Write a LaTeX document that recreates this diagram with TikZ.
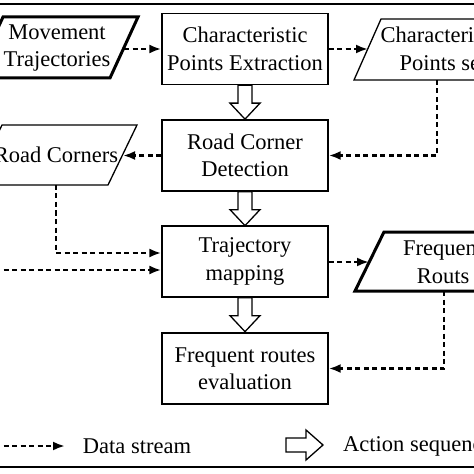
\documentclass[tikz,border=0pt]{standalone}
\usepackage{fontspec}
\setmainfont{Liberation Serif}
\usetikzlibrary{arrows.meta,calc}
\begin{document}
\begin{tikzpicture}[x=1bp,y=-1bp,
  font=\fontsize{22.5bp}{27.5bp}\selectfont,
  proc/.style={draw,line width=1.3bp,minimum width=166bp,minimum height=71bp,align=center,inner sep=0pt},
  txt/.style={align=center,inner sep=0pt},
  thinpar/.style={line width=1.3bp,line join=miter},
  thickpar/.style={line width=3bp,line join=miter},
  data/.style={line width=2.4bp,dash pattern=on 5bp off 3.5bp,-{Latex[length=12bp,width=9bp]}},
  frame/.style={line width=2bp},
  downarr/.pic={\draw[line width=1.3bp,fill=white] (-7,0) -- (7,0) -- (7,18) -- (15,18) -- (0,34) -- (-15,18) -- (-7,18) -- cycle;}
]
\useasboundingbox (0,0) rectangle (474,474);
% frame
\draw[frame] (-5,4) -- (480,4);
\draw[frame] (-5,467) -- (480,467);
% process boxes
\node[proc] (cpe) at (245,49) {Characteristic\\Points Extraction};
\node[proc] (rcd) at (245,155.5) {Road Corner\\Detection};
\node[proc] (tm) at (245,261.5) {Trajectory\\mapping};
\node[proc] (fre) at (245,368.5) {Frequent routes\\evaluation};
% parallelograms
\draw[thickpar] (3,17) -- (138,17) -- (110,78) -- (-25,78) -- cycle;
\node[txt] (mt) at (57,48) {Movement\\Trajectories};
\draw[thinpar] (381,19) -- (532,19) -- (505,80) -- (354,80) -- cycle;
\node[txt] (cps) at (443,49) {Characteristic\\Points set};
\draw[thinpar] (2,125) -- (137,125) -- (108,185) -- (-27,185) -- cycle;
\node[txt] (rc) at (56,155) {Road Corners};
\draw[thickpar] (384,232) -- (535,232) -- (506,291) -- (355,291) -- cycle;
\node[txt] (fr) at (443,262) {Frequent\\Routs};
% edge coordinates
\coordinate (mtR) at (124,49);
\coordinate (cpsL) at (368,49);
\coordinate (cpsB) at (437,80);
\coordinate (cpsT) at (437,155.5);
\coordinate (rcR) at (123,155.5);
\coordinate (rcB) at (56,185);
\coordinate (rcT) at (56,253);
\coordinate (lin) at (-5,270);
\coordinate (frL) at (369,262);
\coordinate (frB) at (444,291);
\coordinate (frT) at (444,368.5);
% data streams
\draw[data] (mtR) -- (mtR -| cpe.west);
\draw[data] (cpe.east |- cpsL) -- (cpsL);
\draw[data] (cpsB) -- (cpsT) -- (rcd.east);
\draw[data] (rcd.west) -- (rcR);
\draw[data] (rcB) -- (rcT) -- (rcT -| tm.west);
\draw[data] (lin) -- (lin -| tm.west);
\draw[data] (tm.east |- frL) -- (frL);
\draw[data] (frB) -- (frT) -- (fre.east);
% action sequence
\pic at (cpe.south) {downarr};
\pic at (rcd.south) {downarr};
\pic at (tm.south) {downarr};
% legend
\coordinate (lgs) at (-5,446);
\coordinate (lge) at (65,446);
\draw[data] (lgs) -- (lge);
\node[txt] (lgd) at (137,446) {Data stream};
\draw[line width=1.3bp,fill=white] (286,438) -- (306,438) -- (306,430) -- (323,445) -- (306,460) -- (306,452) -- (286,452) -- cycle;
\node[txt,anchor=west] (lga) at (343,446) {Action sequence};
\end{tikzpicture}
\end{document}
